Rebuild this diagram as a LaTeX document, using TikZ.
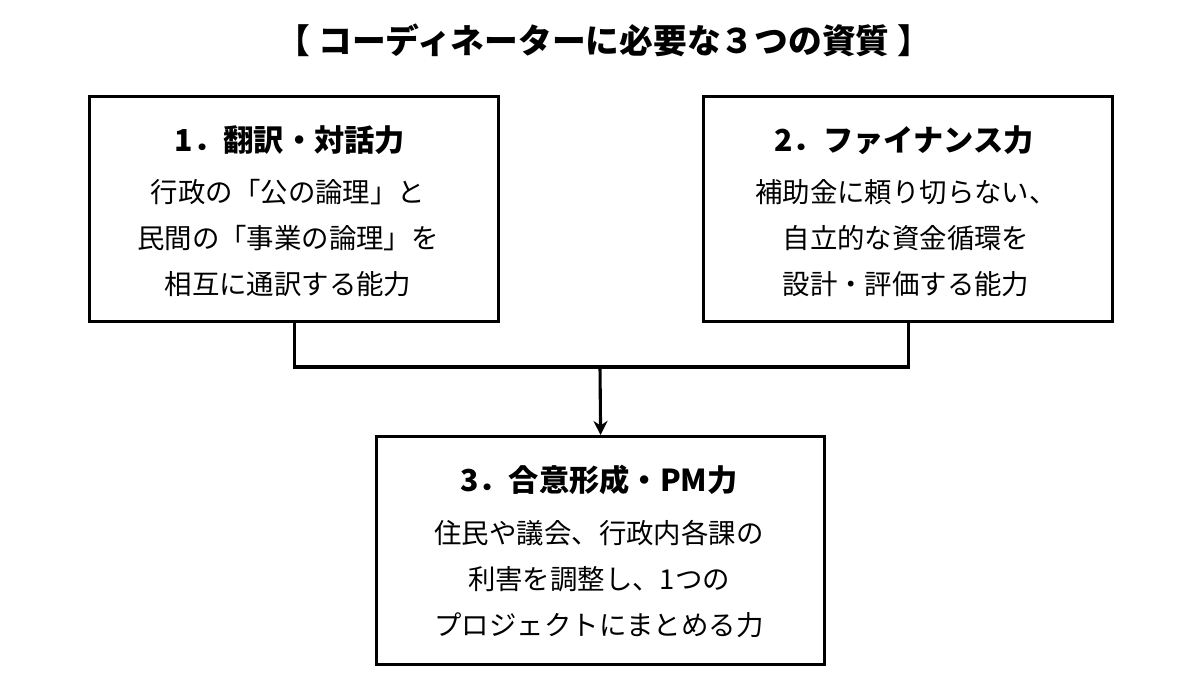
\documentclass[tikz,border=0pt]{standalone}
\usepackage{fontspec}
\setmainfont{Noto Sans CJK JP}
\usetikzlibrary{arrows.meta}
\begin{document}
\begin{tikzpicture}[x=0.025cm,y=-0.025cm,
  box/.style={draw,line width=2.2pt,minimum width=10.225cm,minimum height=5.625cm,anchor=north west},
  ttl/.style={font=\fontsize{21.5}{24}\selectfont\bfseries},
  body/.style={font=\fontsize{19.5}{24}\selectfont},
  ln/.style={line width=2.2pt}]
\useasboundingbox (0,0) rectangle (1200,693);
\node[box] (b1) at (88,95) {};
\node[box] (b2) at (702,95) {};
\node[box,minimum width=11.2cm,minimum height=5.7cm] (b3) at (375,435) {};
\node[font=\fontsize{24}{28}\selectfont\bfseries] (t) at (604,40) {【 コーディネーターに必要な３つの資質 】};
\node[ttl] (h1) at (290,140) {1．翻訳・対話力};
\node[body,align=center] (x1) at (288,238) {行政の「公の論理」と\\[8.5pt]民間の「事業の論理」を\\[8.5pt]相互に通訳する能力};
\node[ttl] (h2) at (904,140) {2．ファイナンス力};
\node[body,align=center] (x2) at (906,238) {補助金に頼り切らない、\\[8.5pt]自立的な資金循環を\\[8.5pt]設計・評価する能力};
\node[ttl] (h3) at (599,480) {3．合意形成・PM力};
\node[body,align=center] (x3) at (599,579) {住民や議会、行政内各課の\\[8.5pt]利害を調整し、1つの\\[8.5pt]プロジェクトにまとめる力};
\coordinate (m) at (600,367);
\draw[ln] (b1.south) |- (m) -| (b2.south);
\draw[ln,-{Stealth[length=10pt,width=10pt]}] (m) -- (b3.north);
\end{tikzpicture}
\end{document}
